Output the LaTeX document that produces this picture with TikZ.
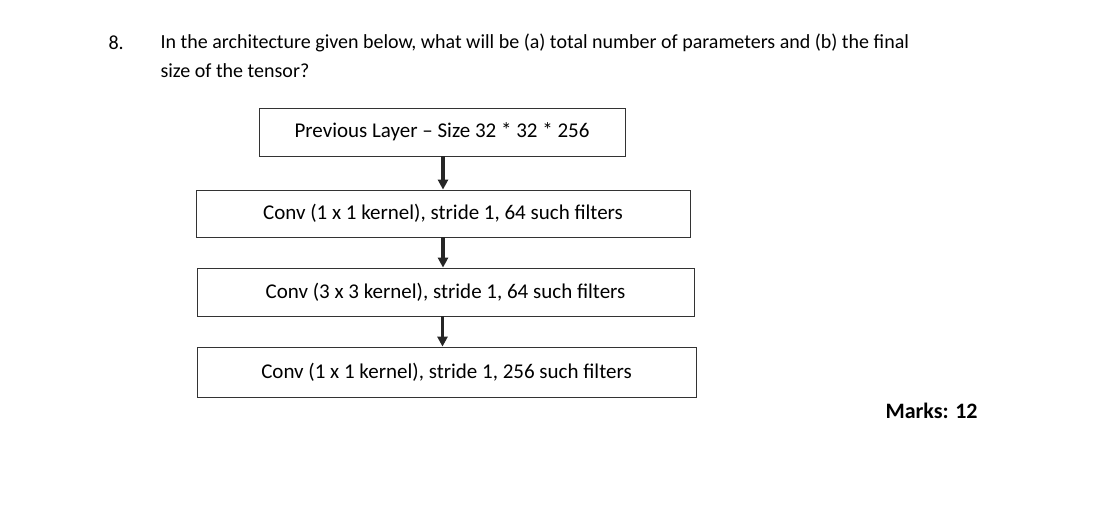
\documentclass[tikz,border=0pt]{standalone}
\usepackage{fontspec}
\setmainfont{Carlito}
\usetikzlibrary{arrows.meta}
\begin{document}
\begin{tikzpicture}[x=1pt,y=-1pt,
  layerbox/.style={draw=black!80,line width=0.8pt,inner sep=0pt,font=\fontsize{21}{24}\selectfont},
  flow/.style={-{Triangle[width=10pt,length=10pt]},line width=3.5pt,draw=black!85}]
\useasboundingbox (0,0) rectangle (1096,508);
\node[anchor=west,font=\fontsize{20}{24}\selectfont] (num) at (105,43) {8.};
\node[anchor=west,font=\fontsize{20}{24}\selectfont] (q1) at (157,43) {In the architecture given below, what will be (a) total number of parameters and (b) the final};
\node[anchor=west,font=\fontsize{20}{24}\selectfont] (q2) at (157,71) {size of the tensor?};
\node[layerbox,minimum width=366pt,minimum height=48pt] (b1) at (442,132) {Previous Layer -- Size 32 * 32 * 256};
\node[layerbox,minimum width=494pt,minimum height=47pt] (b2) at (443,213.5) {Conv (1 x 1 kernel), stride 1, 64 such filters};
\node[layerbox,minimum width=497pt,minimum height=48pt] (b3) at (445.5,292) {Conv (3 x 3 kernel), stride 1, 64 such filters};
\node[layerbox,minimum width=499pt,minimum height=50pt] (b4) at (446.5,372) {Conv (1 x 1 kernel), stride 1, 256 such filters};
\draw[flow] (b1.south) ++(1,0) coordinate (a1) -- (a1 |- b2.north);
\draw[flow] (b2.south) coordinate (a2) -- (a2 |- b3.north);
\draw[flow] (b3.south) ++(-3,0) coordinate (a3) -- (a3 |- b4.north);
\node[anchor=west,font=\bfseries\fontsize{22}{26}\selectfont] (marks) at (882,411) {Marks: 12};
\end{tikzpicture}
\end{document}
